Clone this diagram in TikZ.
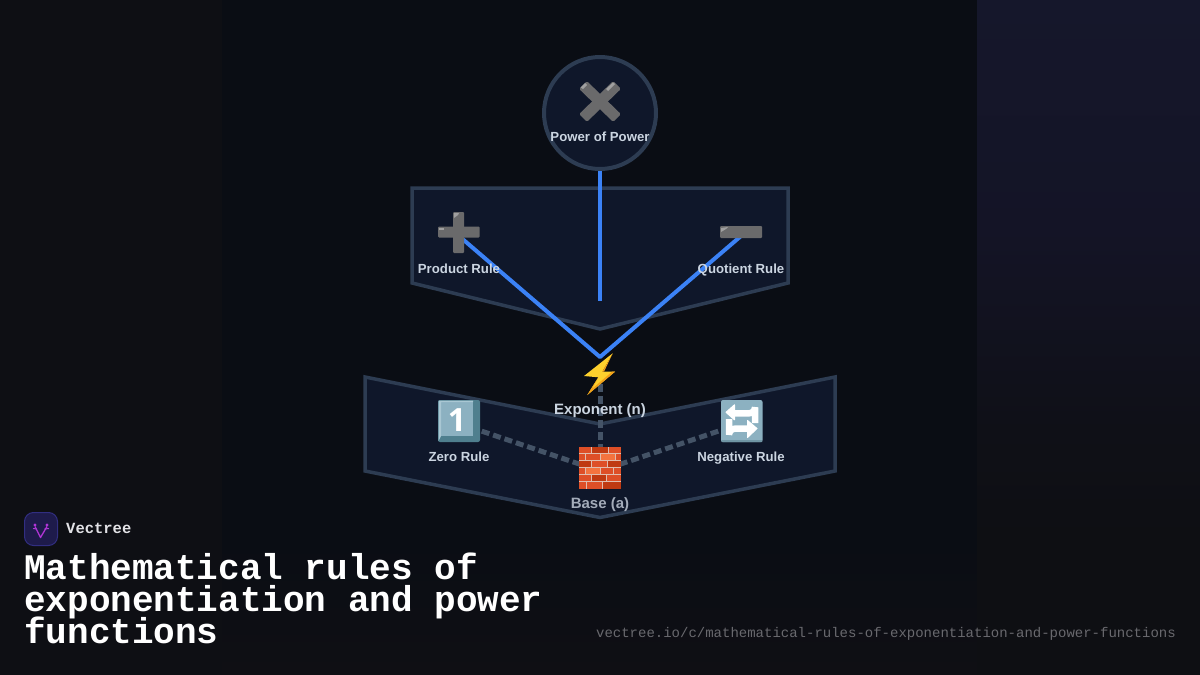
\documentclass[tikz,border=0pt]{standalone}
\usepackage{fontspec}
\setmainfont{Liberation Sans}
\newfontfamily\monof{Liberation Mono}
\newfontfamily\onef{Open Sans}
\definecolor{panelfill}{HTML}{0F172A}
\definecolor{panelline}{HTML}{2D3C52}
\definecolor{blueline}{HTML}{3B82F6}
\definecolor{dashline}{HTML}{445366}
\definecolor{labelc}{HTML}{CBD5E1}
\definecolor{basec}{HTML}{A3ABB9}
\definecolor{glyphgray}{HTML}{6A6A6B}
\definecolor{glossgray}{HTML}{A0A0A0}
\definecolor{keyface}{HTML}{8CB1C1}
\definecolor{keydark}{HTML}{4F7F8E}
\definecolor{keylight}{HTML}{A9C7D3}
\definecolor{mortar}{HTML}{E0BDAE}
\definecolor{brickA}{HTML}{DE4F27}
\definecolor{brickB}{HTML}{BF3A12}
\definecolor{brickC}{HTML}{F4743F}
\definecolor{logofill}{HTML}{1E1B4B}
\definecolor{logoline}{HTML}{312E81}
\definecolor{logomark}{HTML}{B035D6}
\tikzset{
  x=1pt,y=-1pt,
  panelshape/.style={draw=panelline,fill=panelfill,line width=3.5pt,line join=miter},
  solidlink/.style={draw=blueline,line width=4pt},
  dashlink/.style={draw=dashline,line width=5pt,dash pattern=on 8pt off 4pt},
  rulelabel/.style={font=\fontsize{13.2}{15}\selectfont\bfseries,text=labelc,anchor=base,inner sep=0pt},
  biglabel/.style={font=\fontsize{15}{17}\selectfont\bfseries,anchor=base,inner sep=0pt},
  glyphbar/.style={draw=none,fill=glyphgray},
  gloss/.style={fill=glossgray,draw=none},
  titleline/.style={font=\monof\bfseries\fontsize{36}{32.4}\selectfont,text=white,anchor=base west,inner sep=0pt},
}
\newcommand{\brick}[5]{\fill[#5] (#1,#3) rectangle (#2,#4);}
\begin{document}
\begin{tikzpicture}
\useasboundingbox (0,0) rectangle (1200,675);
% background
\fill[fill={rgb,255:red,10;green,13;blue,20}] (0,0) rectangle (1200,675);
\fill[fill={rgb,255:red,14;green,15;blue,20}] (0,0) rectangle (222,675);
\shade[top color={rgb,255:red,21;green,23;blue,43},bottom color={rgb,255:red,20;green,20;blue,38}] (977,0) rectangle (1200,230);
\shade[top color={rgb,255:red,20;green,20;blue,38},bottom color={rgb,255:red,15;green,16;blue,23}] (977,230) rectangle (1200,430);
\shade[top color={rgb,255:red,15;green,16;blue,23},bottom color={rgb,255:red,14;green,15;blue,19}] (977,430) rectangle (1200,540);
\shade[top color={rgb,255:red,10;green,13;blue,20},bottom color={rgb,255:red,15;green,15;blue,20}] (222,540) rectangle (977,675);
\fill[fill={rgb,255:red,14;green,15;blue,19}] (977,540) rectangle (1200,675);

% panels
\path[panelshape] (412,188) -- (788,188) -- (788,283) -- (600,329) -- (412,283) -- cycle;
\path[panelshape] (365,377) -- (600,424) -- (835,377) -- (835,471) -- (600,517.5) -- (365,471) -- cycle;
\node[circle,draw=panelline,fill=panelfill,line width=4pt,minimum size=112pt,inner sep=0pt] (power) at (600,113) {};

% anchors of the icons
\coordinate (product) at (459,236);
\coordinate (quotient) at (741,236);
\coordinate (hub) at (600,357);
\coordinate (stem) at (600,301);
\coordinate (expo) at (600,372);
\coordinate (zero) at (459,423.5);
\coordinate (negative) at (741,423.5);
\coordinate (base) at (600,471);

% connectors
\draw[dashlink] (expo) -- (base);
\draw[dashlink] (zero) -- (base);
\draw[dashlink] (negative) -- (base);
\draw[solidlink] (power.south) -- (stem);
\draw[solidlink,line join=round] (product) -- (hub) -- (quotient);

% cross icon
\fill[glyphgray,rounded corners=1.5pt] (586.9,81.1) -- (620.9,114.1) -- (613.1,121.9) -- (579.1,88.9) -- cycle;
\fill[glyphgray,rounded corners=1.5pt] (613.1,81.1) -- (620.9,88.9) -- (586.9,121.9) -- (579.1,114.1) -- cycle;
\fill[gloss] (580.5,87.5) -- (585,83) -- (587,85) -- (583,89) -- cycle;
\fill[gloss] (606,89) -- (613,82.5) -- (615,84) -- (608,91) -- cycle;
% plus icon
\fill[glyphbar,rounded corners=1pt] (438,226.5) rectangle (479.5,237.5);
\fill[glyphbar,rounded corners=1pt] (453,212) rectangle (464,253);
\fill[gloss] (439,228) rectangle (444,230);
\fill[gloss] (454,213) -- (459,213) -- (458,215) -- (454,218) -- cycle;
% minus icon
\fill[glyphbar,rounded corners=1pt] (720,226) rectangle (762,238);
\fill[gloss] (721,228) -- (728,227) -- (726,229) -- (721,232) -- cycle;

% lightning icon
\fill[fill={rgb,255:red,253;green,208;blue,45}] (612.7,353.3) -- (584,376) -- (598.3,377.3) -- (587.3,395) -- (615,371.7) -- (602.3,371.7) -- cycle;
\fill[fill={rgb,255:red,243;green,160;blue,25}] (598.3,377.3) -- (587.3,395) -- (615,371.7) -- (612,371.7) -- (592,389) -- cycle;
\fill[fill={rgb,255:red,243;green,160;blue,25}] (612.7,353.3) -- (602.3,371.7) -- (604,371.7) -- cycle;

% keycap one icon
\fill[keydark,rounded corners=2pt] (438,400) rectangle (480,442);
\fill[keyface] (441,402) rectangle (473,436);
\fill[keylight] (438.5,400.5) -- (473,400.5) -- (473,402) -- (441,402) -- (441,436) -- (438.5,441) -- cycle;
\node[font=\onef\bfseries\fontsize{32}{32}\selectfont,text=white,inner sep=0pt] (onekey) at (457,420) {1};

% repeat icon
\fill[keyface,rounded corners=2pt] (721,400) rectangle (762.5,442);
\fill[fill={rgb,255:red,112;green,150;blue,165},rounded corners=1pt] (721,440) rectangle (762.5,442);
\draw[white,line width=6.5pt] (732,413.3) -- (749,413.3) arc[start angle=90,end angle=0,radius=6] -- (755,423);
\fill[white,draw=white,line width=1pt,line join=round] (726,412.3) -- (734.5,404.8) -- (734.5,419.8) -- cycle;
\draw[white,line width=6.5pt] (750,428.7) -- (735,428.7) arc[start angle=270,end angle=180,radius=6] -- (729,419);
\fill[white,draw=white,line width=1pt,line join=round] (757,428.5) -- (747.5,420.5) -- (747.5,437.5) -- cycle;

% brick icon
\fill[mortar] (579,447) rectangle (621,489);
\brick{579}{591}{447}{453}{brickA}\brick{592}{608}{447}{453}{brickB}\brick{609}{621}{447}{453}{brickA}
\brick{579}{585}{454}{460}{brickA}\brick{586}{600}{454}{460}{brickA}\brick{601}{615}{454}{460}{brickC}\brick{616}{621}{454}{460}{brickA}
\brick{579}{591}{461}{467}{brickB}\brick{592}{607}{461}{467}{brickA}\brick{608}{621}{461}{467}{brickB}
\brick{579}{585}{468}{474}{brickA}\brick{586}{600}{468}{474}{brickC}\brick{601}{613}{468}{474}{brickA}\brick{614}{621}{468}{474}{brickA}
\brick{579}{591}{475}{481}{brickA}\brick{592}{606}{475}{481}{brickB}\brick{607}{621}{475}{481}{brickA}
\brick{579}{586}{482}{489}{brickA}\brick{587}{602}{482}{489}{brickA}\brick{603}{621}{482}{489}{brickB}

% labels
\node[rulelabel] (powerlabel) at (600,141) {Power of Power};
\node[rulelabel] (productlabel) at (459,273) {Product Rule};
\node[rulelabel] (quotientlabel) at (741,273) {Quotient Rule};
\node[rulelabel] (zerolabel) at (459,461) {Zero Rule};
\node[rulelabel] (negativelabel) at (741,461) {Negative Rule};
\node[biglabel,text=labelc] (expolabel) at (600,414) {Exponent (n)};
\node[biglabel,text=basec] (baselabel) at (600,508) {Base (a)};

% brand
\node[draw=logoline,fill=logofill,line width=1pt,rounded corners=9pt,minimum size=33pt,inner sep=0pt] (logo) at (41,529) {};
\draw[logomark,line width=1.3pt,line join=round] (35,526.5) -- (40.5,537.5) -- (47,526.5);
\draw[logomark,line width=1pt] (33,528.5) -- (37,529) (49,528.5) -- (44.5,529);
\fill[logomark] (35,525) circle (1.6pt) (47,525) circle (1.6pt);
\node[font=\monof\bfseries\fontsize{15.5}{16}\selectfont,text={rgb,255:red,226;green,226;blue,230},anchor=base west,inner sep=0pt] (brand) at (66,533) {Vectree};
\node[titleline] (title1) at (24,579) {Mathematical rules of};
\node[titleline] (title2) at (24,611.4) {exponentiation and power};
\node[titleline] (title3) at (24,643.8) {functions};
\node[font=\monof\fontsize{14}{14}\selectfont,text={rgb,255:red,105;green,105;blue,110},anchor=base east,inner sep=0pt] (url) at (1176,637.5) {vectree.io/c/mathematical-rules-of-exponentiation-and-power-functions};
\end{tikzpicture}
\end{document}
